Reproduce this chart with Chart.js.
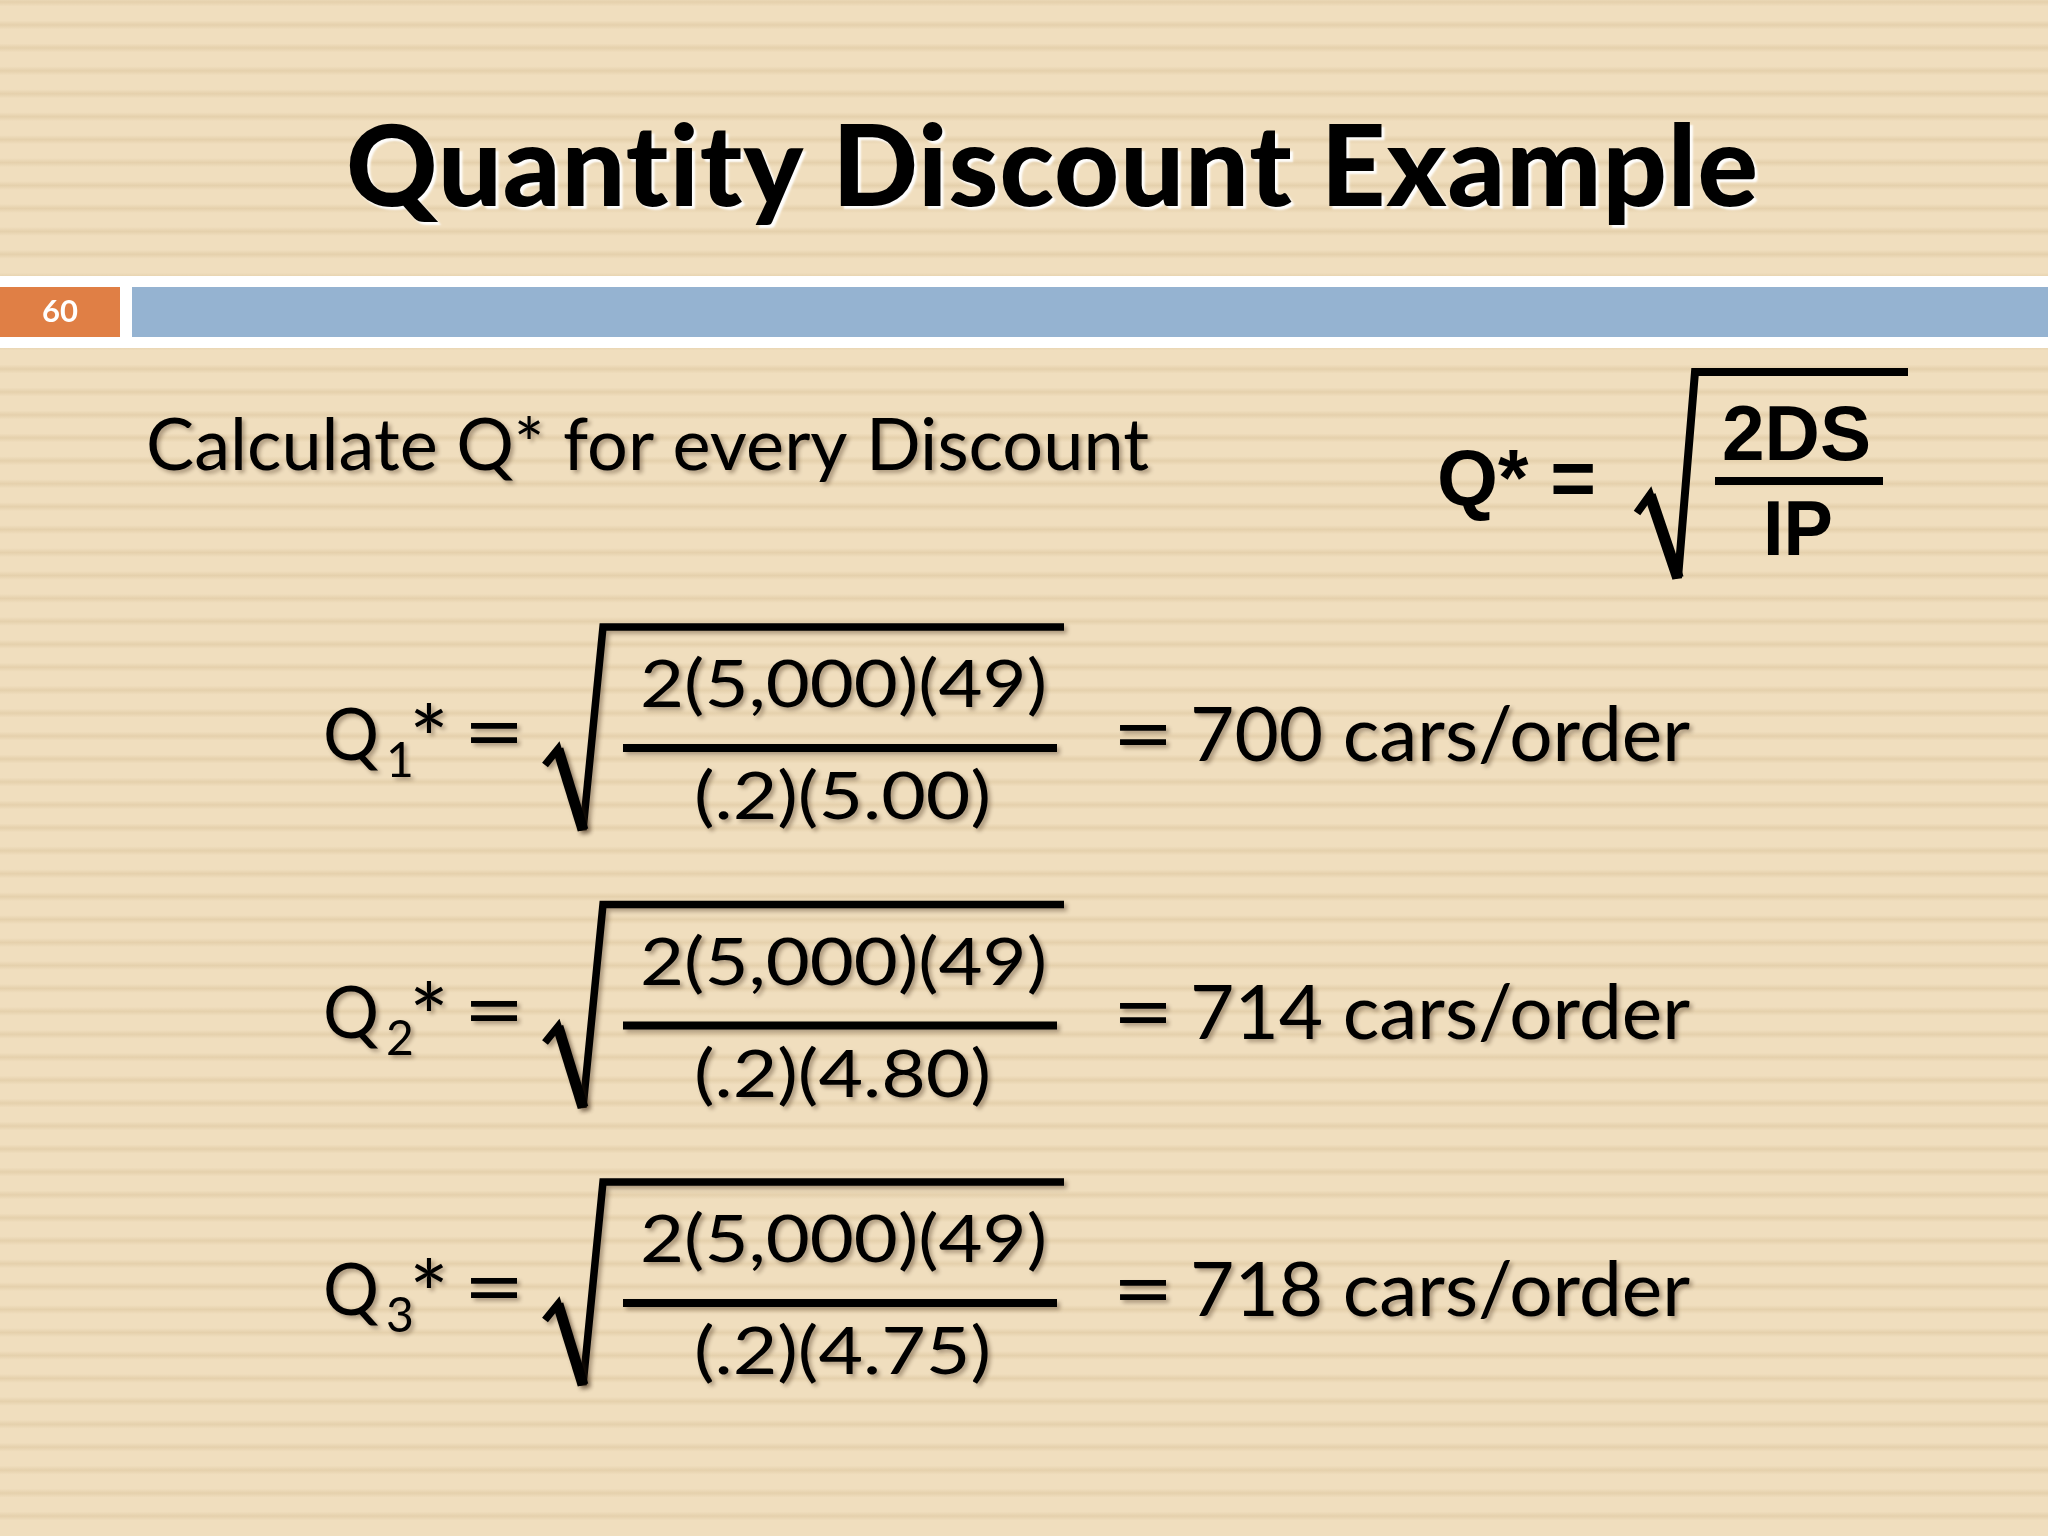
<!DOCTYPE html>
<html>
<head>
<meta charset="utf-8">
<title>Quantity Discount Example</title>
<script src="https://cdn.jsdelivr.net/npm/chart.js@4.4.1/dist/chart.umd.min.js"></script>
<style>
  html, body { margin: 0; padding: 0; background: #f0debe; }
  #slide { display: block; }
</style>
</head>
<body>
<canvas id="slide" width="2048" height="1536"></canvas>
<script>
// Slide values
const slideTitle = 'Quantity Discount Example';
const slideNumber = 60;
const promptText = 'Calculate Q* for every Discount';
const annualDemand = 5000;      // D
const orderCost = 49;           // S
const holdingRate = 0.2;        // I
const unitPrices = [5.00, 4.80, 4.75];      // P for each discount
const orderQuantities = [700, 714, 718];    // resulting Q*
const quantityUnit = 'cars/order';

// Layout (slide pixels, 2048 x 1536)
const layout = {
  rowGap: 277.5,
  stripePeriod: 22.94,
  stripePhase: 1.5
};

const FONT = '"Lato", "Open Sans", sans-serif';
const BOLD = '"Liberation Sans", Arial, sans-serif';

function fitText(ctx, text, x, y, width, font) {
  ctx.font = font;
  const w = ctx.measureText(text).width;
  ctx.save();
  ctx.translate(x, y);
  ctx.scale(width / w, 1);
  ctx.fillText(text, 0, 0);
  ctx.restore();
}

function radical(ctx, pts, px, py, thick) {
  // pts: hook start, hook top, bottom, top, end of bar
  const P = pts.map(p => [px(p[0]), py(p[1])]);
  ctx.beginPath();
  ctx.moveTo(P[0][0], P[0][1]);
  for (let i = 1; i < P.length; i++) ctx.lineTo(P[i][0], P[i][1]);
  ctx.lineWidth = thick;
  ctx.lineJoin = 'miter';
  ctx.miterLimit = 3;
  ctx.stroke();
  ctx.beginPath();
  ctx.moveTo(P[1][0], P[1][1]);
  ctx.lineTo(P[2][0], P[2][1]);
  ctx.lineWidth = thick * 1.45;
  ctx.stroke();
}

const slidePainter = {
  id: 'slidePainter',
  beforeDraw(chart) {
    const ctx = chart.ctx;
    const xs = chart.scales.x, ys = chart.scales.y;
    const px = v => xs.getPixelForValue(v);
    const py = v => ys.getPixelForValue(v);

    // paper background with fine horizontal stripes
    ctx.save();
    ctx.fillStyle = '#f0debe';
    ctx.fillRect(px(0), py(0), px(2048) - px(0), py(1536) - py(0));
    for (let y = layout.stripePhase; y < 1536; y += layout.stripePeriod) {
      const g = ctx.createLinearGradient(0, py(y - 4), 0, py(y + 5));
      g.addColorStop(0, 'rgba(214,190,148,0)');
      g.addColorStop(0.5, 'rgba(214,190,148,0.42)');
      g.addColorStop(1, 'rgba(214,190,148,0)');
      ctx.fillStyle = g;
      ctx.fillRect(px(0), py(y - 4), px(2048) - px(0), py(y + 5) - py(y - 4));
    }

    // header band
    ctx.fillStyle = '#ffffff';
    ctx.fillRect(px(0), py(276), px(2048) - px(0), py(348) - py(276));
    ctx.fillStyle = '#e07f45';
    ctx.fillRect(px(0), py(287), px(120) - px(0), py(337) - py(287));
    ctx.fillStyle = '#95b3d1';
    ctx.fillRect(px(132), py(287), px(2048) - px(132), py(337) - py(287));
    ctx.fillStyle = '#ffffff';
    ctx.font = 'bold 31px ' + FONT;
    ctx.textAlign = 'center';
    ctx.textBaseline = 'alphabetic';
    ctx.fillText(String(slideNumber), px(60), py(322));
    ctx.textAlign = 'left';

    // title with light shadow (letter spacing keeps "ti" from joining)
    ctx.letterSpacing = '1px';
    ctx.shadowColor = 'rgba(255,255,255,0.95)';
    ctx.shadowOffsetX = 3;
    ctx.shadowOffsetY = 3;
    ctx.shadowBlur = 2;
    ctx.fillStyle = '#000000';
    fitText(ctx, slideTitle, px(346), py(206), px(1759) - px(346), '900 113px ' + FONT);
    ctx.letterSpacing = '0px';

    // body text with soft dark shadow
    ctx.shadowColor = 'rgba(60,40,20,0.38)';
    ctx.shadowOffsetX = 3;
    ctx.shadowOffsetY = 3;
    ctx.shadowBlur = 4;
    ctx.fillStyle = '#000000';
    ctx.strokeStyle = '#000000';
    fitText(ctx, promptText, px(146), py(470), px(1149) - px(146), '72px ' + FONT);

    // general formula top right
    ctx.shadowColor = 'rgba(0,0,0,0)';
    fitText(ctx, 'Q* =', px(1437), py(505), px(1596) - px(1437), 'bold 80px ' + BOLD);
    fitText(ctx, '2DS', px(1722), py(460), px(1871) - px(1722), 'bold 77px ' + BOLD);
    fitText(ctx, 'IP', px(1763), py(555), px(1833) - px(1763), 'bold 77px ' + BOLD);
    ctx.fillRect(px(1715), py(477), px(1883) - px(1715), py(485) - py(477));
    radical(ctx, [[1637, 513], [1650, 495], [1678, 578], [1695, 372], [1908, 372]], px, py, 8);

    // one row per discount
    ctx.shadowColor = 'rgba(60,40,20,0.38)';
    const numerator = '2(' + annualDemand.toLocaleString('en-US') + ')(' + orderCost + ')';
    const rate = String(holdingRate).replace(/^0/, '');
    unitPrices.forEach((price, i) => {
      const dy = i * layout.rowGap;
      fitText(ctx, 'Q', px(323), py(760 + dy), 56, '72px ' + FONT);
      ctx.font = '48px ' + FONT;
      ctx.fillText(String(i + 1), px(386), py(777 + dy));
      ctx.font = '94px ' + FONT;
      ctx.fillText('*', px(409), py(773 + dy));
      fitText(ctx, '=', px(463), py(762 + dy), 62, '86px ' + FONT);
      radical(ctx, [[545, 765 + dy], [558, 749 + dy], [583, 830 + dy], [603, 627 + dy], [1064, 627 + dy]], px, py, 7.5);
      fitText(ctx, numerator, px(640), py(707 + dy), px(1047) - px(640), '66px ' + FONT);
      ctx.fillRect(px(623), py(744 + dy), px(1057) - px(623), py(752 + dy) - py(744 + dy));
      const denominator = '(' + rate + ')(' + price.toFixed(2) + ')';
      fitText(ctx, denominator, px(694), py(819 + dy), px(991) - px(694), '66px ' + FONT);
      fitText(ctx, '=', px(1112), py(764 + dy), 62, '86px ' + FONT);
      const result = orderQuantities[i] + ' ' + quantityUnit;
      fitText(ctx, result, px(1190), py(761 + dy), px(1690) - px(1190), '76px ' + FONT);
    });
    ctx.restore();
  }
};

new Chart(document.getElementById('slide').getContext('2d'), {
  type: 'scatter',
  data: {
    datasets: [{
      label: 'Q*',
      data: [],
      pointRadius: 0
    }]
  },
  options: {
    responsive: false,
    animation: false,
    devicePixelRatio: 1,
    layout: { padding: 0 },
    plugins: {
      legend: { display: false },
      title: { display: false },
      tooltip: { enabled: false }
    },
    scales: {
      x: { type: 'linear', min: 0, max: 2048, display: false },
      y: { type: 'linear', min: 0, max: 1536, reverse: true, display: false }
    }
  },
  plugins: [slidePainter]
});
</script>
</body>
</html>
